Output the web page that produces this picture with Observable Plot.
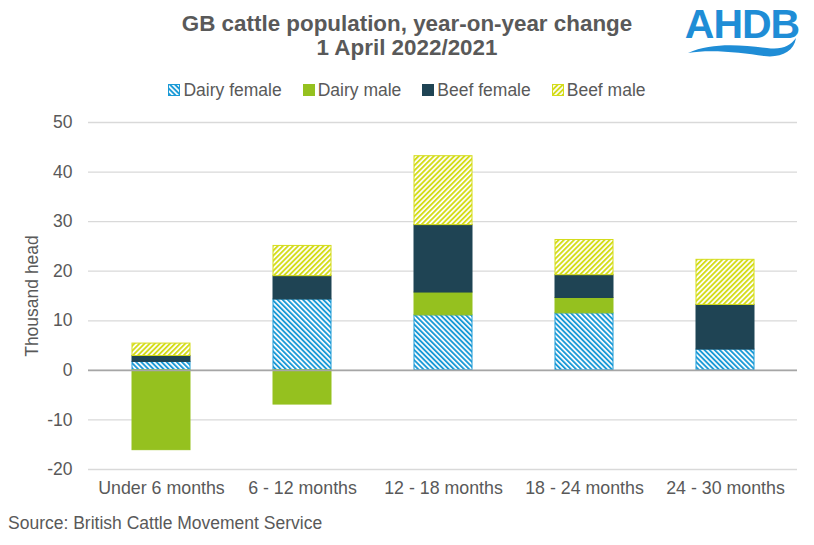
<!DOCTYPE html>
<html>
<head>
<meta charset="utf-8">
<script src="https://cdn.jsdelivr.net/npm/d3@7"></script>
<script src="https://cdn.jsdelivr.net/npm/@observablehq/plot@0.6"></script>
<style>
  html, body { margin: 0; padding: 0; background: #fff; }
  #wrap { position: relative; width: 814px; height: 545px; font-family: "Liberation Sans", Arial, sans-serif; color: #595959; overflow: hidden; }
  #title { position: absolute; top: 12px; left: 0; width: 814px; text-align: center; font-weight: bold; font-size: 22.4px; line-height: 24px; }
  #legend { position: absolute; top: 79px; left: 0; width: 814px; display: flex; justify-content: center; gap: 21px; font-size: 17.5px; line-height: 22px; }
  #legend span.item { display: inline-flex; align-items: center; }
  #legend svg { margin-right: 3px; }
  #chart { position: absolute; top: 105px; left: 0; }
  #source { position: absolute; top: 512px; left: 8px; font-size: 17.5px; line-height: 22px; }
  #logo { position: absolute; top: 0; left: 672px; width: 130px; height: 60px; }
</style>
</head>
<body>
<div id="wrap">
  <svg width="0" height="0" style="position:absolute">
    <defs>
      <pattern id="patDF" patternUnits="userSpaceOnUse" width="3.6" height="3.6" patternTransform="rotate(-45)">
        <rect width="3.6" height="3.6" fill="#ffffff"></rect>
        <rect x="0" y="0" width="1.9" height="3.6" fill="#1b9ad6"></rect>
      </pattern>
      <pattern id="patBM" patternUnits="userSpaceOnUse" width="3.6" height="3.6" patternTransform="rotate(45)">
        <rect width="3.6" height="3.6" fill="#ffffff"></rect>
        <rect x="0" y="0" width="1.9" height="3.6" fill="#d4dc1a"></rect>
      </pattern>
    </defs>
  </svg>
  <div id="title">GB cattle population, year-on-year change<br>1 April 2022/2021</div>
  <div id="legend"></div>
  <div id="chart"></div>
  <div id="source">Source: British Cattle Movement Service</div>
  <svg id="logo" viewBox="0 0 130 60">
    <text x="70" y="38" text-anchor="middle" font-family="Liberation Sans, Arial, sans-serif" font-weight="bold" font-size="41" fill="#1f8dd6" letter-spacing="-1">AHDB</text>
    <path d="M16,53 C40,42 70,45 95,48 C110,50 118,46 124,38 C122,52 108,58 92,56 C70,53 40,49 16,53 Z" fill="#1f8dd6"></path>
  </svg>
</div>
<script>
const ages = ["Under 6 months", "6 - 12 months", "12 - 18 months", "18 - 24 months", "24 - 30 months"];
const seriesNames = ["Dairy female", "Dairy male", "Beef female", "Beef male"];
const dairyFemale = [1.7, 14.3, 11.1, 11.5, 4.2];
const dairyMale = [-16.1, -6.9, 4.6, 3.1, 0];
const beefFemale = [1.2, 4.7, 13.6, 4.6, 9.0];
const beefMale = [2.5, 6.1, 13.9, 7.1, 9.1];
const yTicks = [-20, -10, 0, 10, 20, 30, 40, 50];

const fills = {"Dairy female": "url(#patDF)", "Dairy male": "#95c11f", "Beef female": "#1f4454", "Beef male": "url(#patBM)"};
const strokes = {"Dairy female": "#1b9ad6", "Dairy male": "#95c11f", "Beef female": "#1f4454", "Beef male": "#d4dc1a"};

const seriesValues = [dairyFemale, dairyMale, beefFemale, beefMale];
const data = [];
ages.forEach((age, i) => {
  seriesNames.forEach((s, j) => {
    data.push({age, series: s, value: seriesValues[j][i]});
  });
});

const chart = Plot.plot({
  width: 814,
  height: 400,
  marginTop: 17,
  marginBottom: 36,
  marginLeft: 88,
  marginRight: 17,
  style: {fontFamily: "Liberation Sans, Arial, sans-serif", fontSize: "17.5px", color: "#595959", background: "transparent"},
  x: {domain: ages, paddingInner: 0.59, paddingOuter: 0.295, label: null, tickSize: 0, tickPadding: 12},
  y: {domain: [-20, 50], ticks: yTicks, tickFormat: d => String(d), label: null, tickSize: 0, tickPadding: 16},
  color: {type: "identity"},
  marks: [
    Plot.gridY(yTicks, {stroke: "#d9d9d9", strokeOpacity: 1, strokeWidth: 1.3}),
    Plot.barY(data, Plot.stackY({
      x: "age", y: "value", z: "series",
      fill: d => fills[d.series],
      stroke: d => strokes[d.series],
      strokeWidth: 1
    })),
    Plot.ruleY([0], {stroke: "#a6a6a6", strokeWidth: 1.6}),
    Plot.text(["Thousand head"], {frameAnchor: "left", dx: -56, rotate: -90, textAnchor: "middle", fontSize: 17.5, fill: "#595959"})
  ]
});
chart.querySelectorAll("g[aria-label='x-axis tick label']").forEach(g => g.setAttribute("font-size", "17.8px"));
chart.querySelectorAll("g[aria-label='x-axis tick label'] text, g[aria-label='y-axis tick label'] text").forEach(t => t.setAttribute("fill", "#595959"));
document.getElementById("chart").appendChild(chart);

const legend = document.getElementById("legend");
seriesNames.forEach(s => {
  const item = document.createElement("span");
  item.className = "item";
  item.innerHTML = `<svg width="12" height="12"><rect x="0.5" y="0.5" width="11" height="11" fill="${fills[s]}" stroke="${strokes[s]}" stroke-width="1"></rect></svg>${s}`;
  legend.appendChild(item);
});
</script>
</body>
</html>
